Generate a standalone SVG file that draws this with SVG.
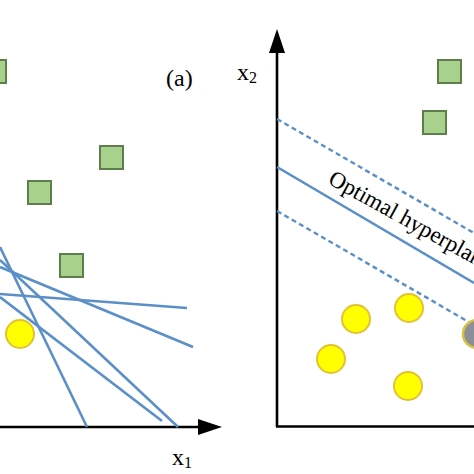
<svg xmlns="http://www.w3.org/2000/svg" width="474" height="474" viewBox="0 0 474 474">
<style>
.sq{fill:#a9d18e;stroke:#5e7f4b;stroke-width:2}
.ci{fill:#ffff00;stroke:#e2c233;stroke-width:2}
.ln{stroke:#5a8fc8;stroke-width:2.6;fill:none}
.ds{stroke:#5a8fc8;stroke-width:2.4;fill:none;stroke-dasharray:5 3.5}
.ax{stroke:#000;stroke-width:2.6;fill:none}
.t{font-family:"Liberation Serif",serif;fill:#000}
</style>
<rect width="474" height="474" fill="#fff"/>
<g id="axes">
<line class="ax" x1="0" y1="427" x2="200" y2="427"/>
<polygon points="198,419 222,427 198,435" fill="#000"/>
<line class="ax" x1="277" y1="427" x2="277" y2="51"/>
<polygon points="269,53 277,29 285,53" fill="#000"/>
<line class="ax" x1="276" y1="426.5" x2="474" y2="426.5"/>
</g>
<g id="connectors">
<line class="ln" x1="0" y1="247" x2="87" y2="427"/>
<line class="ln" x1="0" y1="260" x2="178" y2="427"/>
<line class="ln" x1="0" y1="267" x2="193" y2="347"/>
<line class="ln" x1="0" y1="294" x2="187" y2="308"/>
<line class="ln" x1="0" y1="297" x2="162" y2="421"/>
<line class="ds" x1="277" y1="119" x2="474" y2="233"/>
<line class="ln" x1="277" y1="167" x2="474" y2="283"/>
<line class="ds" x1="277" y1="211" x2="474" y2="325"/>
</g>
<g id="left-squares">
<rect class="sq" x="-17" y="60" width="23" height="23"/>
<rect class="sq" x="100" y="146" width="23" height="23"/>
<rect class="sq" x="28" y="181" width="23" height="23"/>
<rect class="sq" x="60" y="254" width="23" height="23"/>
</g>
<g id="left-circles">
<circle class="ci" cx="20" cy="334" r="14"/>
</g>
<g id="right-squares">
<rect class="sq" x="438" y="60" width="23" height="23"/>
<rect class="sq" x="423" y="111" width="23" height="23"/>
</g>
<g id="right-circles">
<circle class="ci" cx="356" cy="319" r="14"/>
<circle class="ci" cx="409" cy="308" r="14"/>
<circle class="ci" cx="331" cy="359" r="14"/>
<circle class="ci" cx="408" cy="386" r="14"/>
<circle cx="477" cy="334" r="14" fill="#8a8f98" stroke="#d9c040" stroke-width="2.5"/>
</g>
<g id="labels">
<text class="t" x="166" y="86" font-size="24">(a)</text>
<text class="t" x="237" y="80" font-size="24">x<tspan font-size="16" dy="3">2</tspan></text>
<text class="t" x="172" y="465" font-size="24">x<tspan font-size="16" dy="3">1</tspan></text>
<text class="t" x="327" y="183" font-size="23" transform="rotate(29 327 183)">Optimal hyperplane</text>
</g>
</svg>
